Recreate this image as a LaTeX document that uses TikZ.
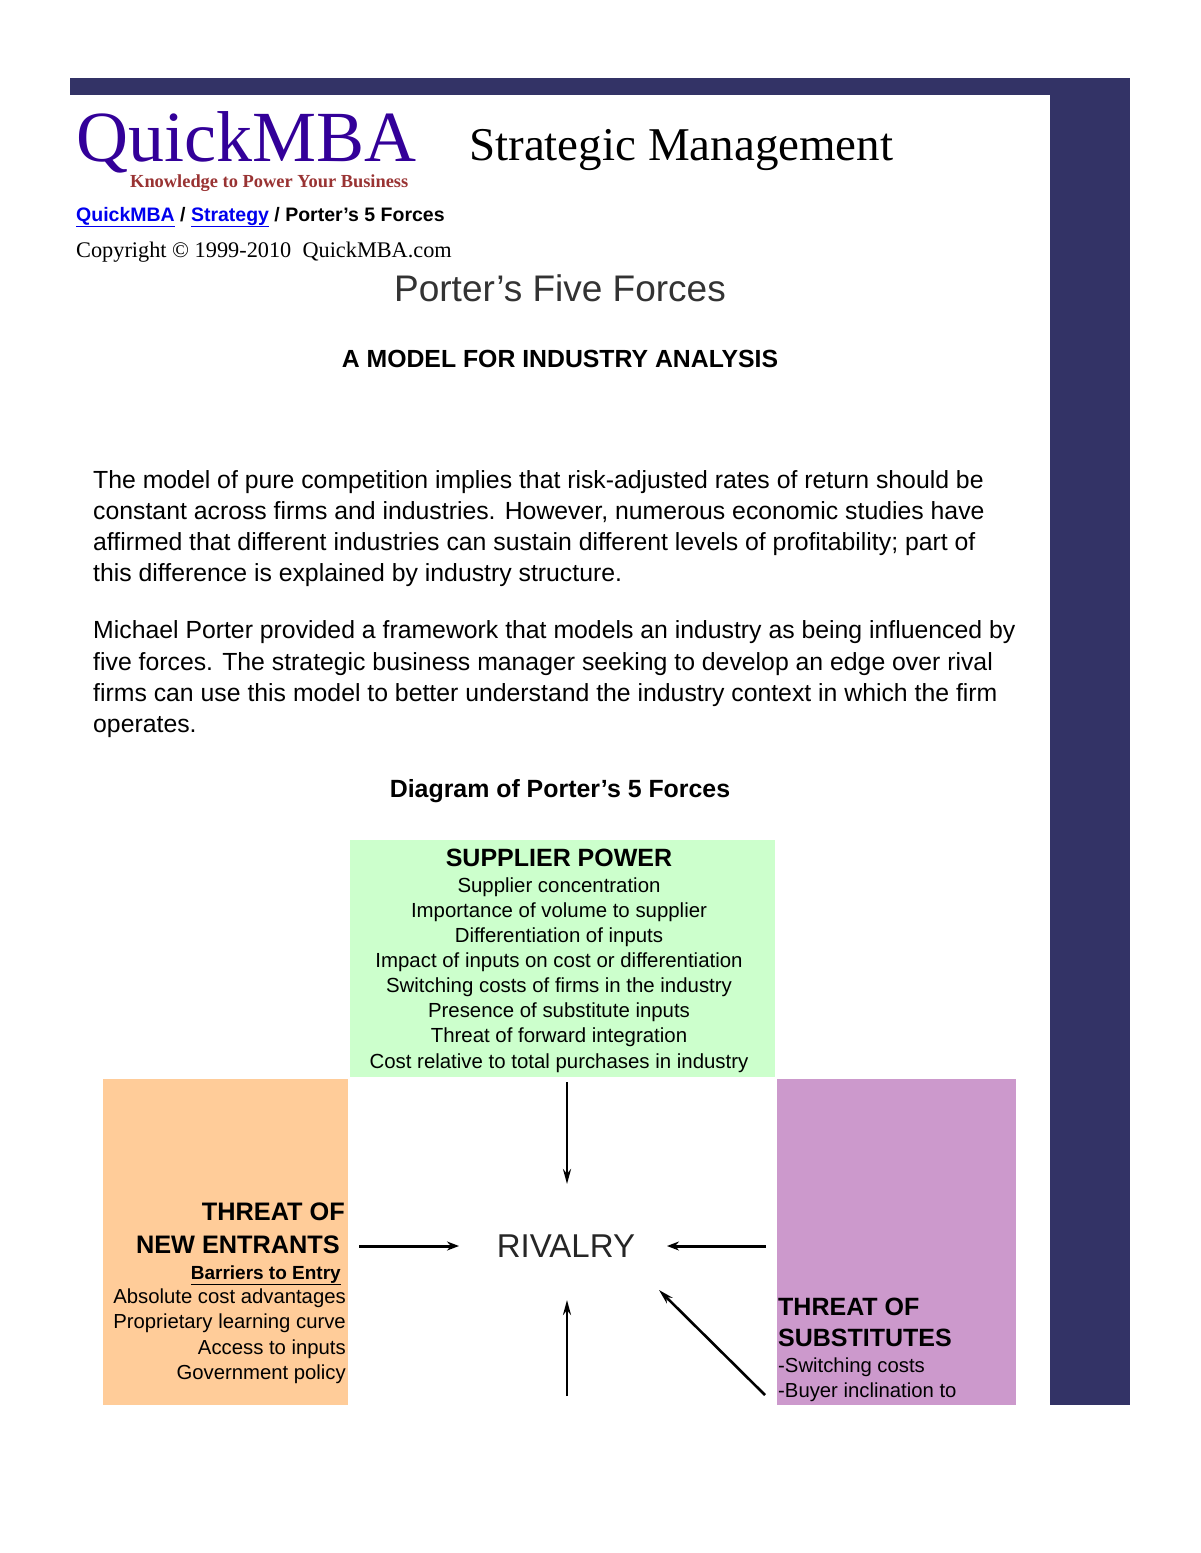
\documentclass[tikz,border=0pt]{standalone}
\usepackage{fontspec}
\setmainfont{Liberation Sans}
\newfontfamily\serifx{Liberation Serif}
\usetikzlibrary{arrows.meta}
\definecolor{navy}{HTML}{333366}
\definecolor{logo}{HTML}{330099}
\definecolor{tag}{HTML}{993333}
\definecolor{linkb}{HTML}{0000EE}
\definecolor{grn}{HTML}{CCFFCC}
\definecolor{org}{HTML}{FFCC99}
\definecolor{pur}{HTML}{CC99CC}
\newcommand{\fs}[1]{\fontsize{#1}{#1}\selectfont}
\tikzset{
 txt/.style={inner sep=0pt,anchor=base west},
 ctr/.style={inner sep=0pt,anchor=base},
 rgt/.style={inner sep=0pt,anchor=base east},
 para/.style={txt,font=\fs{24.8}},
 glin/.style={ctr,font=\fs{20.4}},
 olin/.style={rgt,font=\fs{20.3}},
 plin/.style={txt,font=\fs{20.3}},
 force/.style={-{Stealth[length=12pt,width=9pt]},line width=3pt},
 vforce/.style={-{Stealth[length=15pt,width=8pt]},line width=2.6pt}
}
\begin{document}
\begin{tikzpicture}[x=1pt,y=-1pt]
\useasboundingbox[fill=white] (0,0) rectangle (1200,1553);
\fill[navy] (70,78) rectangle (1130,95);
\fill[navy] (1050,78) rectangle (1130,1405);
\node[txt,text=logo,font=\serifx\fs{72}] (logo) at (76,161) {QuickMBA};
\node[txt,text=tag,font=\serifx\bfseries\fs{18.4}] (tagl) at (130,187) {Knowledge to Power Your Business};
\node[txt,font=\serifx\fs{47}] (sm) at (469,160) {Strategic Management};
\node[txt,font=\bfseries\fs{19.5}] (crumb) at (76,221) {\textcolor{linkb}{\underline{QuickMBA}} / \textcolor{linkb}{\underline{Strategy}} / Porter's 5 Forces};
\node[txt,font=\serifx\fs{22.3}] (copy) at (76,257) {Copyright © 1999-2010~ QuickMBA.com};
\node[ctr,text=black!80,font=\fs{37}] (title) at (560,301) {Porter's Five Forces};
\node[ctr,font=\bfseries\fs{24.8}] (sub) at (560,367) {A MODEL FOR INDUSTRY ANALYSIS};
\node[para] (p1) at (93,488) {The model of pure competition implies that risk-adjusted rates of return should be};
\node[para] (p2) at (93,519) {constant across firms and industries. However, numerous economic studies have};
\node[para] (p3) at (93,550) {affirmed that different industries can sustain different levels of profitability; part of};
\node[para] (p4) at (93,581) {this difference is explained by industry structure.};
\node[para] (q1) at (93,638) {Michael Porter provided a framework that models an industry as being influenced by};
\node[para] (q2) at (93,670) {five forces. The strategic business manager seeking to develop an edge over rival};
\node[para] (q3) at (93,701) {firms can use this model to better understand the industry context in which the firm};
\node[para] (q4) at (93,732) {operates.};
\node[ctr,font=\bfseries\fs{24.9}] (dtitle) at (560,797) {Diagram of Porter's 5 Forces};
% boxes
\fill[grn] (350,840) rectangle (775,1077);
\fill[org] (103,1079) rectangle (348,1405);
\fill[pur] (777,1079) rectangle (1016,1405);
\node[ctr,font=\bfseries\fs{25}] (sp) at (559,866) {SUPPLIER POWER};
\node[glin] (g1) at (559,892) {Supplier concentration};
\node[glin] (g2) at (559,917) {Importance of volume to supplier};
\node[glin] (g3) at (559,942) {Differentiation of inputs};
\node[glin] (g4) at (559,967) {Impact of inputs on cost or differentiation};
\node[glin] (g5) at (559,992) {Switching costs of firms in the industry};
\node[glin] (g6) at (559,1017) {Presence of substitute inputs};
\node[glin] (g7) at (559,1042) {Threat of forward integration};
\node[glin] (g8) at (559,1068) {Cost relative to total purchases in industry};
\node[rgt,font=\bfseries\fs{25.3}] (ne1) at (345,1220) {THREAT OF};
\node[rgt,font=\bfseries\fs{25.3}] (ne2) at (340,1253) {NEW ENTRANTS};
\node[rgt,font=\bfseries\fs{19}] (be) at (341,1279) {\underline{Barriers to Entry}};
\node[olin] (o1) at (346,1303) {Absolute cost advantages};
\node[olin] (o2) at (346,1328) {Proprietary learning curve};
\node[olin] (o3) at (346,1354) {Access to inputs};
\node[olin] (o4) at (346,1379) {Government policy};
\node[txt,font=\bfseries\fs{25}] (ts1) at (778,1315) {THREAT OF};
\node[txt,font=\bfseries\fs{25}] (ts2) at (778,1346) {SUBSTITUTES};
\node[plin] (s1) at (778,1372) {-Switching costs};
\node[plin] (s2) at (778,1397) {-Buyer inclination to};
\node[ctr,text=black!85,font=\fs{33}] (riv) at (566,1257) {RIVALRY};
% arrows
\coordinate (a1) at (567,1082); \coordinate (a1e) at (567,1184);
\coordinate (a2) at (359,1246); \coordinate (a2e) at (459,1246);
\coordinate (a3) at (766,1246); \coordinate (a3e) at (667,1246);
\coordinate (a4) at (567,1396); \coordinate (a4e) at (567,1300);
\coordinate (a5) at (765,1395); \coordinate (a5e) at (659,1290);
\draw[vforce] (a1) -- (a1e);
\draw[force] (a2) -- (a2e);
\draw[force] (a3) -- (a3e);
\draw[vforce] (a4) -- (a4e);
\draw[vforce] (a5) -- (a5e);
\end{tikzpicture}
\end{document}
